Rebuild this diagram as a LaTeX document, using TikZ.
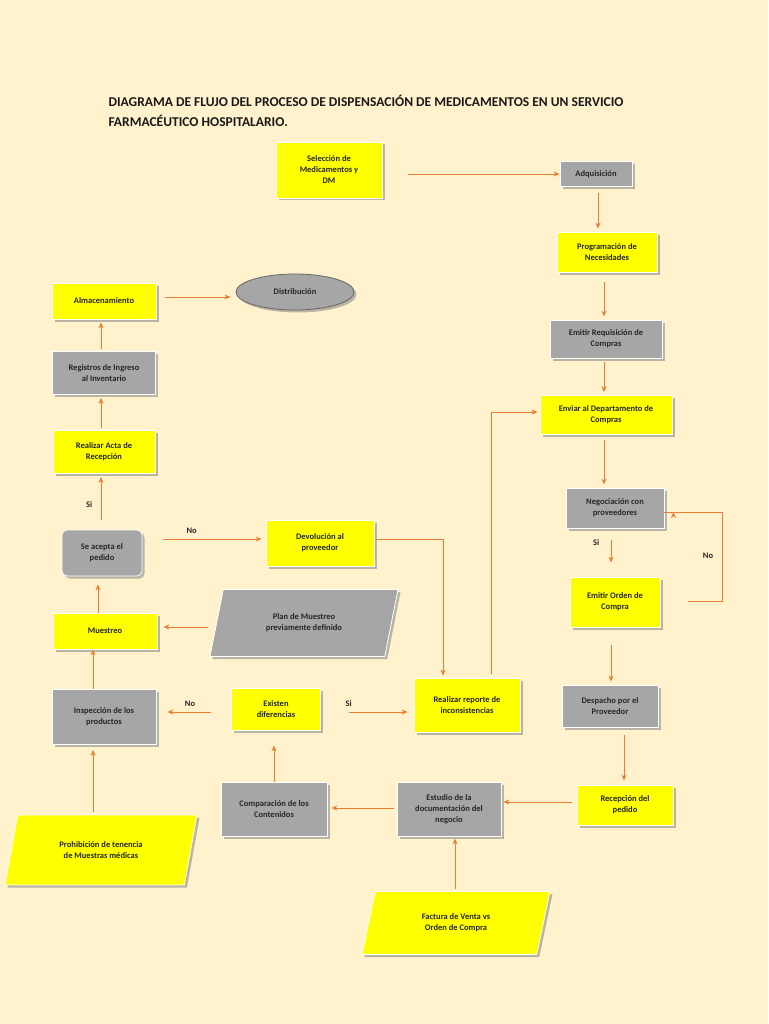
\documentclass[tikz,border=0pt]{standalone}
\usepackage{fontspec}
\setmainfont{Carlito}
\usetikzlibrary{shapes.geometric,shadows,arrows.meta}
\definecolor{bg}{HTML}{FFF2CC}
\definecolor{yel}{HTML}{FFFF00}
\definecolor{gry}{HTML}{A6A6A6}
\definecolor{org}{HTML}{ED7D31}
\tikzset{
 base/.style={draw=white,line width=0.8pt,font=\bfseries\fontsize{8.5}{11}\selectfont,align=center,text=black!85,
   drop shadow={shadow xshift=2.5pt,shadow yshift=-2.5pt,fill=black!45,opacity=.6}},
 yb/.style={base,fill=yel,rectangle},
 gb/.style={base,fill=gry,rectangle},
 para/.style={base,trapezium,trapezium left angle=62,trapezium right angle=118,trapezium stretches body=true},
 arr/.style={draw=org,line width=0.9pt,-{Stealth[length=6pt,width=5pt]}},
 lab/.style={font=\bfseries\fontsize{8.5}{10}\selectfont,text=black!85}
}
\begin{document}
\begin{tikzpicture}[x=1pt,y=-1pt]
\fill[bg] (0,0) rectangle (768,1024);
\useasboundingbox (0,0) rectangle (768,1024);
\node[anchor=north west,align=left,font=\bfseries\fontsize{13.5}{20}\selectfont,text=black!90] (title) at (105,92)
 {DIAGRAMA DE FLUJO DEL PROCESO DE DISPENSACIÓN DE MEDICAMENTOS EN UN SERVICIO\\FARMACÉUTICO HOSPITALARIO.};
\node[yb,minimum width=106,minimum height=56] (sel) at (329,170) {Selección de\\Medicamentos y\\DM};
\node[gb,minimum width=72,minimum height=25] (adq) at (596,174) {Adquisición};
\node[yb,minimum width=100,minimum height=40] (prog) at (607,252) {Programación de\\Necesidades};
\node[gb,minimum width=112,minimum height=38] (req) at (606,339) {Emitir Requisición de\\Compras};
\node[yb,minimum width=132,minimum height=39] (env) at (606,415) {Enviar al Departamento de\\Compras};
\node[gb,minimum width=98,minimum height=40] (neg) at (615,508) {Negociación con\\proveedores};
\node[yb,minimum width=90,minimum height=50] (ord) at (615,602) {Emitir Orden de\\Compra};
\node[gb,minimum width=96,minimum height=42] (des) at (610,706) {Despacho por el\\Proveedor};
\node[yb,minimum width=96,minimum height=40] (rec) at (625,805) {Recepción del\\pedido};
\node[gb,minimum width=104,minimum height=54] (est) at (449,809) {Estudio de la\\documentación del\\negocio};
\node[para,fill=yel,minimum width=188,minimum height=63] (fac) at (456,923) {Factura de Venta vs\\Orden de Compra};
\node[gb,minimum width=106,minimum height=54] (com) at (274,809) {Comparación de los\\Contenidos};
\node[yb,minimum width=89,minimum height=42] (exi) at (276,709) {Existen\\diferencias};
\node[yb,minimum width=106,minimum height=54] (rep) at (467,705) {Realizar reporte de\\inconsistencias};
\node[gb,minimum width=104,minimum height=55] (ins) at (104,717) {Inspección de los\\productos};
\node[para,fill=yel,minimum width=192,minimum height=70] (pro) at (101,850) {Prohibición de tenencia\\de Muestras médicas};
\node[yb,minimum width=104,minimum height=36] (mue) at (105,631) {Muestreo};
\node[para,fill=gry,minimum width=188,minimum height=67] (plan) at (304,623) {Plan de Muestreo\\previamente definido};
\node[gb,rounded corners=5pt,minimum width=80,minimum height=46] (ace) at (102,553) {Se acepta el\\pedido};
\node[yb,minimum width=108,minimum height=46] (dev) at (320,543) {Devolución al\\proveedor};
\node[yb,minimum width=102,minimum height=43] (act) at (104,452) {Realizar Acta de\\Recepción};
\node[gb,minimum width=103,minimum height=43] (reg) at (104,373) {Registros de Ingreso\\al Inventario};
\node[yb,minimum width=104,minimum height=36] (alm) at (104,301) {Almacenamiento};
\node[base,ellipse,fill=gry,draw=black!60,minimum width=118,minimum height=36] (dis) at (295,292) {Distribución};
% connectors
\draw[arr] (408,174 -| sel.east) ++(26,0) -- (adq.west);
\draw[arr,shorten <=6pt,shorten >=3pt] (adq.south -| 598,0) -- (prog.north -| 598,0);
\draw[arr,shorten <=10pt,shorten >=3pt] (prog.south -| 604,0) -- (req.north -| 604,0);
\draw[arr,shorten <=4pt,shorten >=3pt] (req.south -| 604,0) -- (env.north -| 604,0);
\draw[arr,shorten <=5pt,shorten >=3pt] (env.south -| 604,0) -- (neg.north -| 604,0);
\draw[arr,shorten <=12pt,shorten >=14pt] (neg.south -| 611,0) -- node[lab,left=8pt,pos=0.3]{Si} (ord.north -| 611,0);
\draw[arr] (ord.east |- 0,601) ++(28,0) -- (722,601) -- node[lab,right=-20pt,pos=0.5,xshift=-8pt]{} (722,512) -- (neg.east |- 0,512) ++(9,0);
\node[lab] (no1) at (708,556) {No};
\draw[arr,shorten <=18pt,shorten >=3pt] (ord.south -| 611,0) -- (des.north -| 611,0);
\draw[arr,shorten <=8pt,shorten >=4pt] (des.south -| 624,0) -- (rec.north -| 624,0);
\draw[arr,shorten <=5pt,shorten >=2pt] (rec.west |- 0,802) -- (est.east |- 0,802);
\draw[arr,shorten <=2pt,shorten >=2pt] (fac.north -| 455,0) -- (est.south -| 455,0);
\draw[arr,shorten <=3pt,shorten >=4pt] (est.west |- 0,808) -- (com.east |- 0,808);
\draw[arr,shorten <=0pt,shorten >=15pt] (com.north -| 274,0) -- (exi.south -| 274,0);
\draw[arr,shorten <=28pt,shorten >=6pt] (exi.east |- 0,712) -- node[lab,above=2pt,pos=0.3]{Si} (rep.west |- 0,712);
\draw[arr,shorten <=20pt,shorten >=11pt] (exi.west |- 0,712) -- node[lab,above=2pt,pos=0.55]{No} (ins.east |- 0,712);
\draw[arr,shorten <=3pt,shorten >=5pt] (pro.north -| 93,0) -- (ins.south -| 93,0);
\draw[arr,shorten <=0pt,shorten >=0pt] (ins.north -| 93,0) -- (mue.south -| 93,0);
\draw[arr,shorten <=8pt,shorten >=6pt] (plan.west |- 0,627) -- (mue.east |- 0,627);
\draw[arr,shorten <=0pt,shorten >=8pt] (mue.north -| 98,0) -- (ace.south -| 98,0);
\draw[arr,shorten <=21pt,shorten >=4pt] (ace.east |- 0,539) -- node[lab,above=2pt,pos=0.4]{No} (dev.west |- 0,539);
\draw[arr,shorten <=10pt,shorten >=3pt] (ace.north -| 101,0) -- node[lab,left=5pt,pos=0.45]{Si} (act.south -| 101,0);
\draw[arr,shorten <=2pt,shorten >=3pt] (act.north -| 101,0) -- (reg.south -| 101,0);
\draw[arr,shorten <=2pt,shorten >=3pt] (reg.north -| 101,0) -- (alm.south -| 101,0);
\draw[arr,shorten <=9pt,shorten >=5pt] (alm.east |- 0,297) -- (dis.west |- 0,297);
\draw[arr,shorten >=2pt] (dev.east |- 0,539) ++(2,0) -- (443,539) -- (rep.north -| 443,0);
\draw[arr,shorten >=2pt] (rep.north -| 491,0) ++(0,-4) -- (491,412) -- (env.west |- 0,412);
\end{tikzpicture}
\end{document}
